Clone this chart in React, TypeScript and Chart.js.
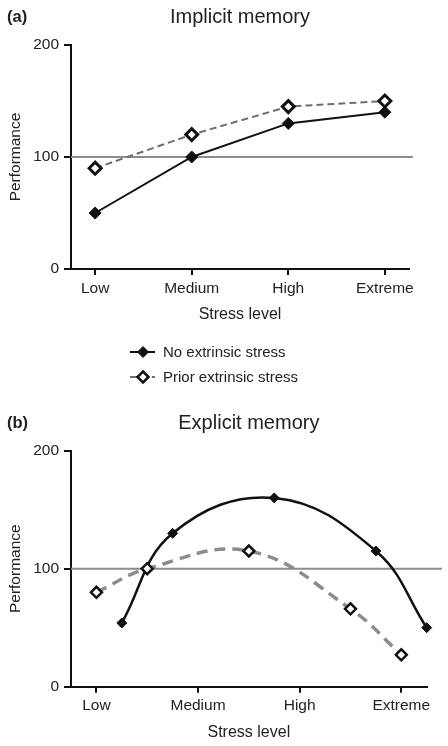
import React, { useEffect, useRef } from "react";
import { Chart, registerables } from "chart.js";

Chart.register(...registerables);

const stressLevels = ["Low", "Medium", "High", "Extreme"];
const stressTicks = [0, 1, 2, 3];
const performanceTicks = [0, 100, 200];
const seriesNames = ["No extrinsic stress", "Prior extrinsic stress"];
const baselineValue = 100;

// (a) implicit memory: one value per stress level
const implicitNoStress = [50, 100, 130, 140];
const implicitPrior = [90, 120, 145, 150];
const implicitBaselineX = [-0.25, 3.29];

// (b) explicit memory: points fall between the levels
const explicitNoStressX = [0.25, 0.75, 1.75, 2.75, 3.25];
const explicitNoStressY = [54, 130, 160, 115, 50];
const explicitPriorX = [0, 0.5, 1.5, 2.5, 3];
const explicitPriorY = [80, 100, 115, 66, 27];
const explicitBaselineX = [-0.25, 3.4];

const family = '"Liberation Sans", Arial, Helvetica, sans-serif';
const textColor = "#222";
const axisColor = "#111";
const gray = "#8c8c8c";

const panelLabel = {
  id: "panelLabel",
  afterDraw(chart: any, _args: any, opts: any) {
    const { ctx } = chart;
    ctx.save();
    ctx.font = `bold 16.5px ${family}`;
    ctx.fillStyle = textColor;
    ctx.textBaseline = "middle";
    ctx.fillText(opts.text, opts.x, opts.y);
    ctx.restore();
  },
};

// two stacked legend rows under the x axis title
const rowLegend = {
  id: "rowLegend",
  afterDraw(chart: any, _args: any, opts: any) {
    if (!opts.show) return;
    const { ctx, chartArea } = chart;
    const x0 = chartArea.left + 59;
    let y = chart.scales.x.bottom + 25;
    chart.data.datasets
      .filter((d: any) => seriesNames.includes(d.label))
      .forEach((d: any) => {
        ctx.save();
        ctx.strokeStyle = d.borderColor;
        ctx.lineWidth = d.borderWidth;
        ctx.setLineDash(d.borderDash || []);
        ctx.beginPath();
        ctx.moveTo(x0, y);
        ctx.lineTo(x0 + 25, y);
        ctx.stroke();
        ctx.setLineDash([]);
        const r = 5.5;
        const cx = x0 + 13;
        ctx.beginPath();
        ctx.moveTo(cx, y - r);
        ctx.lineTo(cx + r, y);
        ctx.lineTo(cx, y + r);
        ctx.lineTo(cx - r, y);
        ctx.closePath();
        ctx.fillStyle = d.pointBackgroundColor;
        ctx.fill();
        ctx.strokeStyle = d.pointBorderColor;
        ctx.lineWidth = Math.min(d.pointBorderWidth, 2.5);
        ctx.stroke();
        ctx.font = `15px ${family}`;
        ctx.fillStyle = textColor;
        ctx.textBaseline = "middle";
        ctx.fillText(d.label, x0 + 33, y + 1);
        ctx.restore();
        y += 25;
      });
  },
};

const makeScales = (xHeight: number, xTitlePad: number): any => ({
  x: {
    type: "linear",
    min: -0.25,
    max: 3.25,
    afterBuildTicks: (axis: any) => {
      axis.ticks = stressTicks.map((v) => ({ value: v }));
    },
    afterFit: (axis: any) => {
      axis.height = xHeight;
    },
    ticks: {
      callback: (v: any) => stressLevels[v] ?? "",
      font: { size: 15.5, family },
      color: textColor,
      padding: 4,
      autoSkip: false,
      maxRotation: 0,
    },
    grid: { drawOnChartArea: false, drawTicks: true, tickLength: 6, color: axisColor, lineWidth: 2 },
    border: { display: true, color: axisColor, width: 2 },
    title: {
      display: true,
      text: "Stress level",
      font: { size: 16, family },
      color: textColor,
      padding: { top: 0, bottom: xTitlePad },
    },
  },
  y: {
    min: 0,
    max: 200,
    afterBuildTicks: (axis: any) => {
      axis.ticks = performanceTicks.map((v) => ({ value: v }));
    },
    afterFit: (axis: any) => {
      axis.width = 71;
    },
    ticks: { font: { size: 15.5, family }, color: textColor, padding: 5 },
    grid: { drawOnChartArea: false, drawTicks: true, tickLength: 7, color: axisColor, lineWidth: 2 },
    border: { display: true, color: axisColor, width: 2 },
    title: {
      display: true,
      text: "Performance",
      font: { size: 15.5, family },
      color: textColor,
      padding: { top: 6.6, bottom: 0 },
    },
  },
});

const basePlugins = (title: string, padTop: number, padBottom: number, label: string, labelY: number, legend: boolean): any => ({
  legend: { display: false },
  tooltip: { enabled: false },
  title: {
    display: true,
    text: title,
    fullSize: false,
    color: textColor,
    font: { size: 20, family, weight: "normal" },
    padding: { top: padTop, bottom: padBottom },
  },
  panelLabel: { text: label, x: 7, y: labelY },
  rowLegend: { show: legend },
});

const App: React.FC = () => {
  const implicitRef = useRef<HTMLCanvasElement | null>(null);
  const explicitRef = useRef<HTMLCanvasElement | null>(null);

  useEffect(() => {
    if (!implicitRef.current || !explicitRef.current) return;

    const implicitChart = new Chart(implicitRef.current, {
      type: "line",
      data: {
        datasets: [
          {
            label: seriesNames[0],
            data: implicitNoStress.map((y, i) => ({ x: stressTicks[i], y })),
            borderColor: axisColor,
            borderWidth: 2,
            pointStyle: "rectRot",
            pointRadius: 6,
            pointBackgroundColor: axisColor,
            pointBorderColor: axisColor,
            pointBorderWidth: 1,
            order: 1,
          },
          {
            label: seriesNames[1],
            data: implicitPrior.map((y, i) => ({ x: stressTicks[i], y })),
            borderColor: "#6e6e6e",
            borderDash: [7, 4],
            borderWidth: 2,
            pointStyle: "rectRot",
            pointRadius: 6,
            pointBackgroundColor: "#fff",
            pointBorderColor: axisColor,
            pointBorderWidth: 3,
            order: 0,
          },
          {
            label: "baseline",
            data: implicitBaselineX.map((x) => ({ x, y: baselineValue })),
            borderColor: gray,
            borderWidth: 2,
            pointRadius: 0,
            order: 5,
          },
        ] as any,
      },
      options: {
        animation: false,
        responsive: true,
        maintainAspectRatio: false,
        events: [],
        clip: false as any,
        layout: { padding: { left: 0, right: 39, top: 0, bottom: 73 } },
        plugins: basePlugins("Implicit memory", 5, 16, "(a)", 17, true),
        scales: makeScales(58, 2.4),
      },
      plugins: [panelLabel, rowLegend],
    });

    const explicitChart = new Chart(explicitRef.current, {
      type: "line",
      data: {
        datasets: [
          {
            label: seriesNames[0],
            data: explicitNoStressY.map((y, i) => ({ x: explicitNoStressX[i], y })),
            borderColor: axisColor,
            borderWidth: 2.5,
            tension: 0.4,
            pointStyle: "rectRot",
            pointRadius: 5,
            pointBackgroundColor: axisColor,
            pointBorderColor: axisColor,
            pointBorderWidth: 1,
            order: 1,
          },
          {
            label: seriesNames[1],
            data: explicitPriorY.map((y, i) => ({ x: explicitPriorX[i], y })),
            borderColor: gray,
            borderDash: [11, 7],
            borderWidth: 3.5,
            tension: 0.4,
            pointStyle: "rectRot",
            pointRadius: 5.5,
            pointBackgroundColor: "#fff",
            pointBorderColor: axisColor,
            pointBorderWidth: 2.5,
            order: 0,
          },
          {
            label: "baseline",
            data: explicitBaselineX.map((x) => ({ x, y: baselineValue })),
            borderColor: gray,
            borderWidth: 2,
            pointRadius: 0,
            order: 5,
          },
        ] as any,
      },
      options: {
        animation: false,
        responsive: true,
        maintainAspectRatio: false,
        events: [],
        clip: false as any,
        layout: { padding: { left: 0, right: 21.3, top: 0, bottom: 0 } },
        plugins: basePlugins("Explicit memory", 16, 15.7, "(b)", 28, false),
        scales: makeScales(59.3, 3.7),
      },
      plugins: [panelLabel, rowLegend],
    });

    return () => {
      implicitChart.destroy();
      explicitChart.destroy();
    };
  }, []);

  return (
    <div style={{ position: "absolute", top: 0, left: 0, width: 448, height: 746, background: "#fff" }}>
      <div style={{ position: "absolute", top: 0, left: 0, width: 448, height: 400 }}>
        <canvas ref={implicitRef} />
      </div>
      <div style={{ position: "absolute", top: 395, left: 0, width: 448, height: 351 }}>
        <canvas ref={explicitRef} />
      </div>
    </div>
  );
};

export default App;
